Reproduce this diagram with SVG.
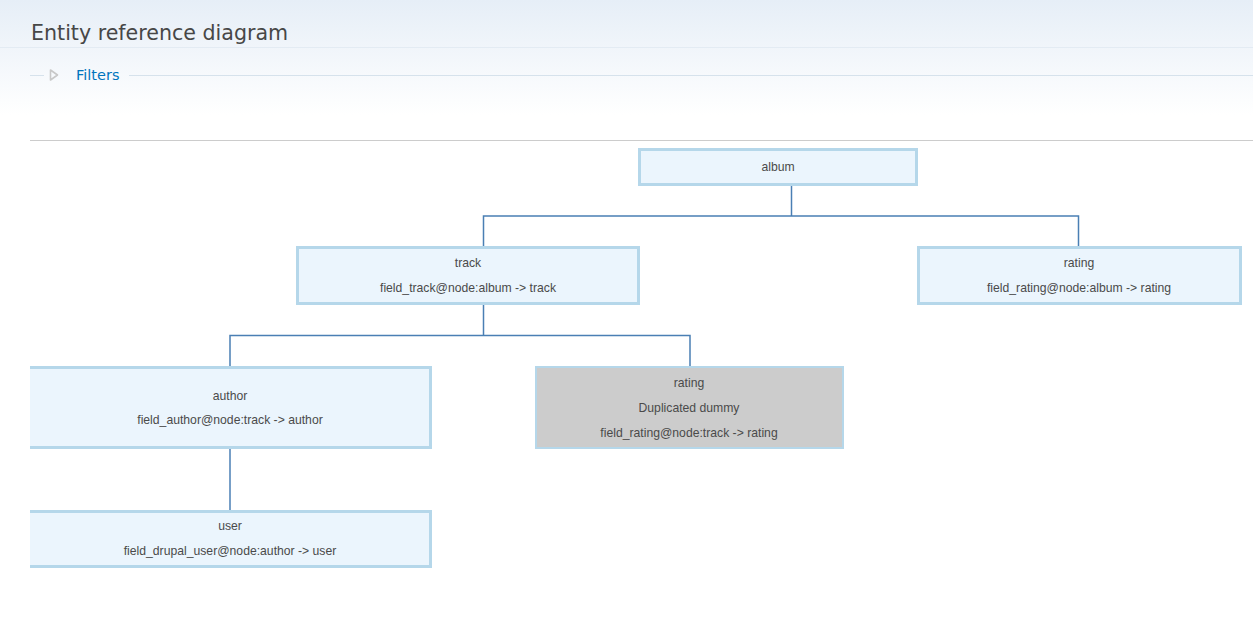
<svg xmlns="http://www.w3.org/2000/svg" width="1253" height="619" viewBox="0 0 1253 619">
<defs>
<linearGradient id="hdr" x1="0" y1="0" x2="0" y2="1">
<stop offset="0" stop-color="#e6eef7"/>
<stop offset="1" stop-color="#ffffff"/>
</linearGradient>
<clipPath id="clipL"><rect x="30" y="0" width="1223" height="619"/></clipPath>
</defs>
<style>
.title{font-family:"DejaVu Sans",sans-serif;font-size:20.6px;fill:#474747}
.filt{font-family:"DejaVu Sans",sans-serif;font-size:14.5px;fill:#0074bd}
.box{fill:#ebf5fd;stroke:#b5d7ea;stroke-width:3}
.dup{fill:#cccccc;stroke:#b5d7ea;stroke-width:2}
.t{font-family:"Liberation Sans",Arial,sans-serif;font-size:12.2px;fill:#4a4a4a;text-anchor:middle}
.c{fill:none;stroke:#4a7fb4;stroke-width:1.5}
</style>
<rect x="0" y="0" width="1253" height="619" fill="#ffffff"/>
<rect x="0" y="0" width="1253" height="115" fill="url(#hdr)"/>
<line x1="0" y1="47.5" x2="1253" y2="47.5" stroke="#e3ebf3" stroke-width="1"/>
<text class="title" x="31" y="40">Entity reference diagram</text>
<line x1="30" y1="75.5" x2="44" y2="75.5" stroke="#d6e2ec" stroke-width="1"/>
<line x1="129" y1="75.5" x2="1253" y2="75.5" stroke="#d6e2ec" stroke-width="1"/>
<path d="M50.5 70 L57.5 75 L50.5 80 Z" fill="none" stroke="#c8c8c8" stroke-width="1.6" stroke-linejoin="round"/>
<text class="filt" x="76" y="80">Filters</text>
<line x1="30" y1="140.5" x2="1253" y2="140.5" stroke="#cccccc" stroke-width="1"/>

<g id="connectors">
<path class="c" d="M791.5 185 V216"/>
<path class="c" stroke-width="2" d="M483.5 246 V216 H1078.5 V246"/>
<path class="c" d="M483.5 305 V335.5"/>
<path class="c" d="M230 366 V335.5 H690 V366"/>
<path class="c" d="M230 449 V510"/>
</g>

<g id="album">
<rect class="box" x="639.5" y="149.5" width="277" height="35"/>
<text class="t" x="778" y="171">album</text>
</g>
<g id="track">
<rect class="box" x="297.5" y="247.5" width="341" height="56"/>
<text class="t" x="468" y="267">track</text>
<text class="t" x="468" y="292">field_track@node:album -&gt; track</text>
</g>
<g id="rating-album">
<rect class="box" x="918.5" y="247.5" width="322" height="56"/>
<text class="t" x="1079" y="267">rating</text>
<text class="t" x="1079" y="292">field_rating@node:album -&gt; rating</text>
</g>
<g id="author" clip-path="url(#clipL)">
<rect class="box" x="28" y="367.5" width="402.5" height="80"/>
<text class="t" x="230" y="400">author</text>
<text class="t" x="230" y="424">field_author@node:track -&gt; author</text>
</g>
<g id="rating-track">
<rect class="dup" x="536" y="367" width="307" height="81"/>
<text class="t" x="689" y="387">rating</text>
<text class="t" x="689" y="412">Duplicated dummy</text>
<text class="t" x="689" y="437">field_rating@node:track -&gt; rating</text>
</g>
<g id="user" clip-path="url(#clipL)">
<rect class="box" x="28" y="511.5" width="402.5" height="55"/>
<text class="t" x="230" y="530">user</text>
<text class="t" x="230" y="555">field_drupal_user@node:author -&gt; user</text>
</g>
</svg>
